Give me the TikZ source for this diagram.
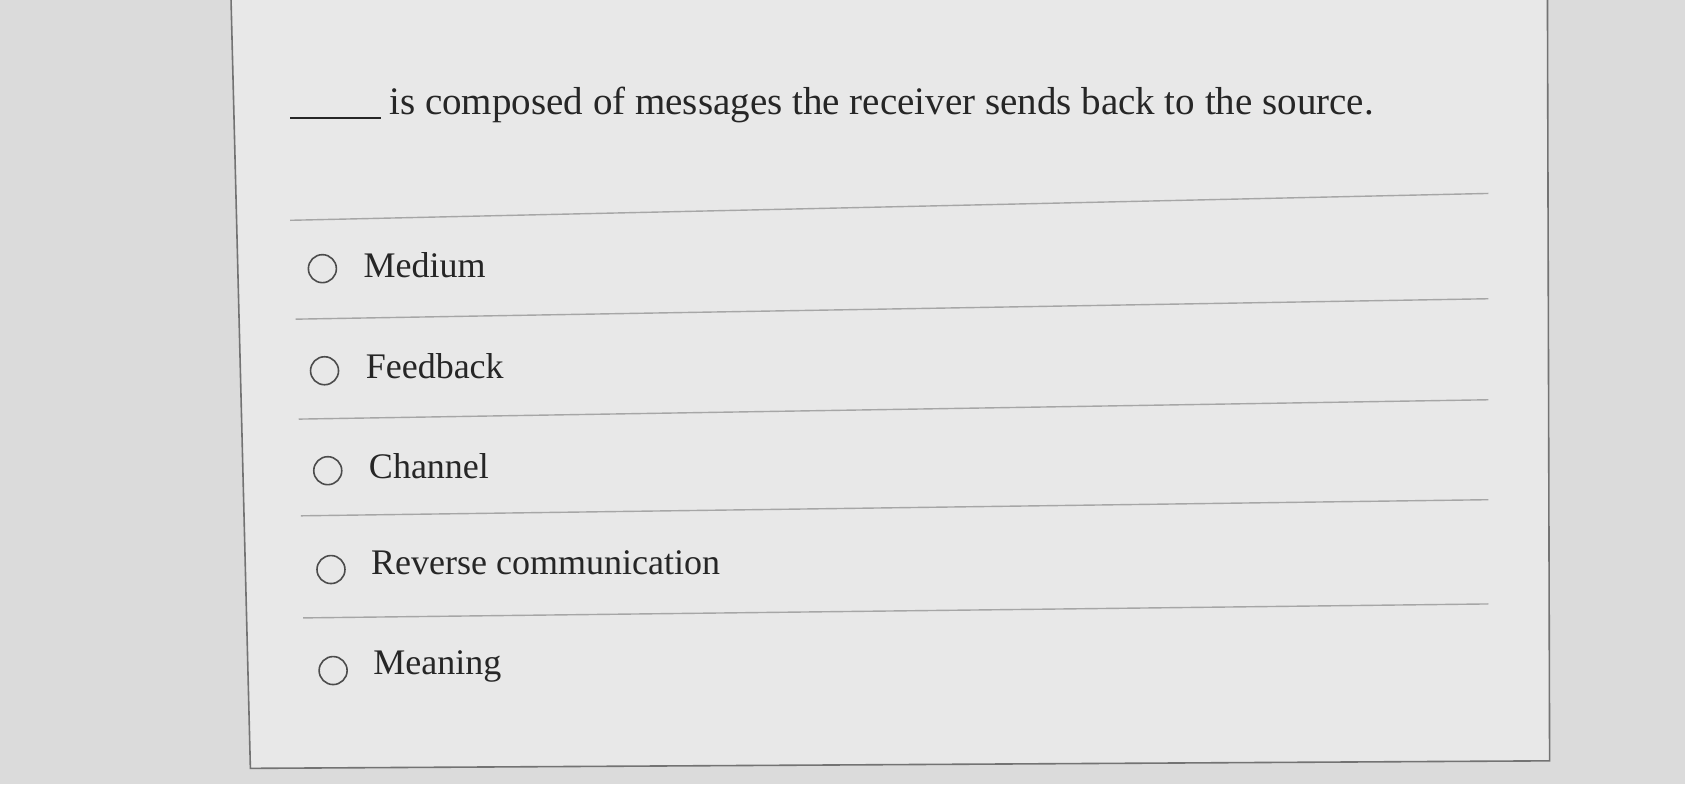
\documentclass[tikz,border=0pt]{standalone}
\usepackage{fontspec}
\setmainfont{Liberation Serif}
\begin{document}
\begin{tikzpicture}[x=0.5373pt,y=-0.5373pt,
  opt/.style={anchor=west,font=\fontsize{18}{21}\selectfont,text=black!85,inner sep=0pt},
  radio/.style={circle,draw=black!70,line width=0.8pt,minimum size=14pt,inner sep=0pt},
  sep/.style={draw=black!35,line width=0.7pt}]
\useasboundingbox (0,0) rectangle (1568,730);
\fill[black!14] (0,0) rectangle (1568,730);
\fill[black!9] (215,0) -- (233,715) -- (1442,708) -- (1440,0) -- cycle;
\draw[black!55,line width=0.8pt] (215,0) -- (233,715) -- (1442,708) -- (1440,0);
\draw[black!85,line width=0.8pt] (270,110) coordinate (b1) -- (355,110) coordinate (b2);
\node[opt,font=\fontsize{19.5}{22}\selectfont] (q) at (362,98) {is composed of messages the receiver sends back to the source.};
\draw[sep] (270,205) -- (1385,180);
\draw[sep] (275,297) -- (1385,278);
\draw[sep] (278,390) -- (1385,372);
\draw[sep] (280,480) -- (1385,465);
\draw[sep] (282,575) -- (1385,562);
\node[radio] (c1) at (300,250) {}; \node[opt] (t1) at (338,247) {Medium};
\node[radio] (c2) at (302,345) {}; \node[opt] (t2) at (340,341) {Feedback};
\node[radio] (c3) at (305,438) {}; \node[opt] (t3) at (343,434) {Channel};
\node[radio] (c4) at (308,530) {}; \node[opt] (t4) at (345,524) {Reverse communication};
\node[radio] (c5) at (310,624) {}; \node[opt] (t5) at (347,620) {Meaning};
\end{tikzpicture}
\end{document}
